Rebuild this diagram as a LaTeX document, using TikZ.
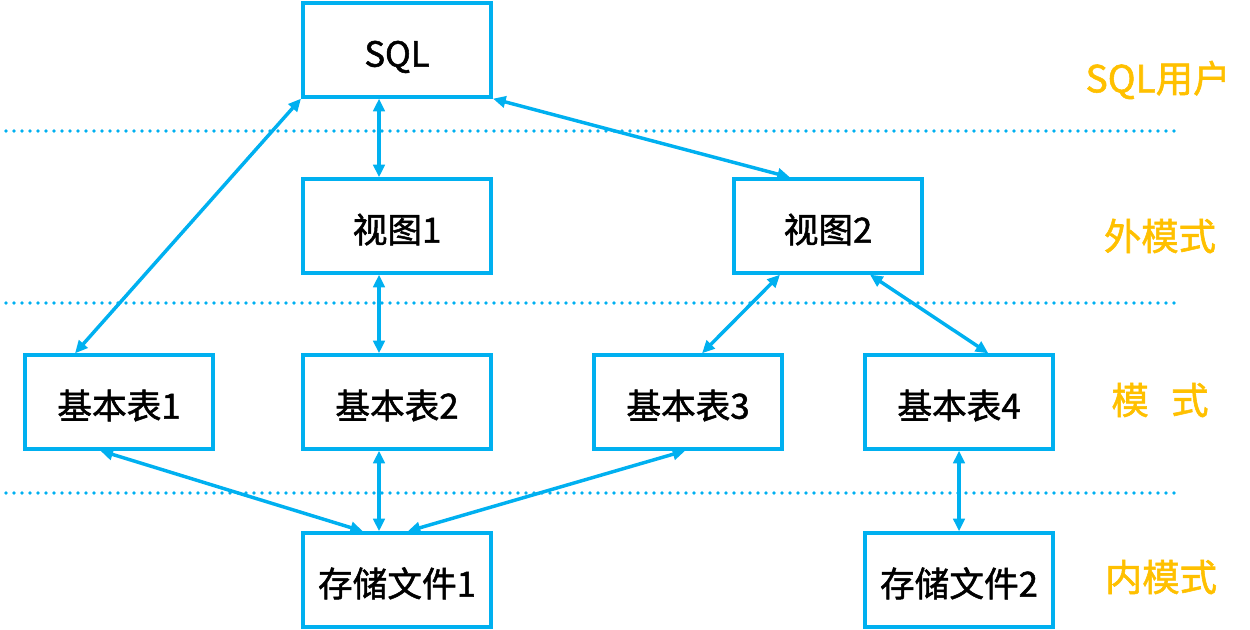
\documentclass[tikz,border=0pt]{standalone}
\usepackage{fontspec}
\setmainfont{Noto Sans CJK SC}[RawFeature={embolden=1.5}]
\usetikzlibrary{arrows.meta}
\definecolor{linkblue}{HTML}{00B0F0}
\definecolor{levelgold}{HTML}{FFC000}
\begin{document}
\begin{tikzpicture}[x=0.75pt, y=-0.75pt,
    every node/.style={font=\fontsize{26}{30}\selectfont, align=center},
    schemabox/.style={draw=linkblue, line width=3pt, minimum width=141pt, minimum height=70pt, inner sep=0pt, text height=25pt, text depth=0pt},
    link/.style={draw=linkblue, line width=2.6pt, {Triangle[length=9.5pt,width=8.5pt]}-{Triangle[length=9.5pt,width=8.5pt]}},
    divider/.style={draw=linkblue, line width=2.8pt, line cap=round, dash pattern=on 0pt off 6pt},
    level/.style={text=levelgold, font=\fontsize{28}{32}\selectfont}]
    \useasboundingbox (0,0) rectangle (1250,630);
    % dotted level lines
    \foreach \ly in {131, 303, 493} {
        \draw[divider] (6,\ly) -- (1181,\ly);
    }
    % boxes
    \node[schemabox] (sql) at (397,50) {SQL};
    \node[schemabox] (v1) at (397,226) {视图1};
    \node[schemabox] (v2) at (828,226) {视图2};
    \node[schemabox] (b1) at (119,402) {基本表1};
    \node[schemabox] (b2) at (397,402) {基本表2};
    \node[schemabox] (b3) at (688,402) {基本表3};
    \node[schemabox] (b4) at (959,402) {基本表4};
    \node[schemabox] (f1) at (397,580) {存储文件1};
    \node[schemabox] (f2) at (959,580) {存储文件2};
    % level labels
    \node[level] (lsql) at (1158,80) {SQL用户};
    \node[level] (lext) at (1160,236) {外模式};
    \node[level] (lmod) at (1160,400) {模\hspace{0.6em}式};
    \node[level] (lint) at (1161,577) {内模式};
    % links
    \draw[link] (sql.south west) -- ([xshift=-33pt]b1.north);
    \draw[link] ([xshift=-13.5pt]sql.south) -- ([xshift=-13.5pt]v1.north);
    \draw[link] (sql.south east) -- ([xshift=-28.5pt]v2.north);
    \draw[link] ([xshift=-13.5pt]v1.south) -- ([xshift=-13.5pt]b2.north);
    \draw[link] ([xshift=-36pt]v2.south) -- ([xshift=10.5pt]b3.north);
    \draw[link] ([xshift=31.5pt]v2.south) -- ([xshift=22pt]b4.north);
    \draw[link] ([xshift=-14pt]b1.south) -- ([xshift=-25.5pt]f1.north);
    \draw[link] ([xshift=-13.5pt]b2.south) -- ([xshift=-13.5pt]f1.north);
    \draw[link] ([xshift=-2pt]b3.south) -- ([xshift=8pt]f1.north);
    \draw[link] (b4.south) -- (f2.north);
\end{tikzpicture}
\end{document}
